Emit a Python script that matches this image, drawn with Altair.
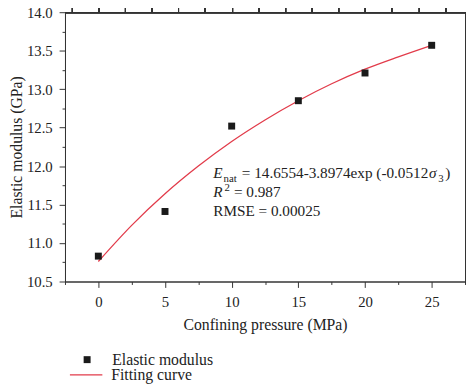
import altair as alt
import pandas as pd

# Measured data (Elastic modulus vs confining pressure)
pressure = [0, 5, 10, 15, 20, 25]
modulus = [10.83, 11.41, 12.52, 12.85, 13.21, 13.57]

# Fitting curve
curve_x = [0, 2.5, 5, 7.5, 10, 12.5, 15, 17.5, 20, 22.5, 25]
curve_y = [10.76, 11.23, 11.64, 12.00, 12.32, 12.60, 12.85, 13.07, 13.26, 13.42, 13.57]

# Axis ticks
x_major = [0, 5, 10, 15, 20, 25]
x_minor = [-2.5, 2.5, 7.5, 12.5, 17.5, 22.5, 27.5]
y_major = [10.5, 11.0, 11.5, 12.0, 12.5, 13.0, 13.5, 14.0]
y_minor = [10.75, 11.25, 11.75, 12.25, 12.75, 13.25, 13.75]

FONT = "Liberation Serif"
INK = "#222222"
RED = "#e23b4a"

pts = pd.DataFrame({"p": pressure, "e": modulus, "series": "Elastic modulus"})
crv = pd.DataFrame({"p": curve_x, "e": curve_y, "series": "Fitting curve"})

xs = alt.Scale(domain=[-2.5, 27.5], nice=False, zero=False)
ys = alt.Scale(domain=[10.5, 14.0], nice=False, zero=False)

x_axis = alt.Axis(
    values=x_major, title="Confining pressure (MPa)", orient="bottom",
    tickSize=6, labelPadding=7, titlePadding=8, grid=False,
    labelOverlap=False, labelFlush=False,
)
y_axis = alt.Axis(
    values=y_major, title="Elastic modulus (GPa)", format=".1f", orient="left",
    tickSize=6, labelPadding=7, titlePadding=2, grid=False,
    labelOverlap=False, labelFlush=False,
)
x_minor_axis = alt.Axis(values=x_minor, orient="bottom", labels=False, title=None,
                        tickSize=3, domain=False, grid=False)
y_minor_axis = alt.Axis(values=y_minor, orient="left", labels=False, title=None,
                        tickSize=3, domain=False, grid=False)

line = alt.Chart(crv).mark_line(strokeWidth=1.3, interpolate="monotone").encode(
    x=alt.X("p:Q", scale=xs, axis=x_axis),
    y=alt.Y("e:Q", scale=ys, axis=y_axis),
    color=alt.Color("series:N", scale=alt.Scale(domain=["Fitting curve"], range=[RED]),
                    legend=alt.Legend(orient="none", legendX=4, legendY=351.5, title=None,
                                      symbolSize=1089, symbolStrokeWidth=1.5,
                                      labelOffset=8, padding=0,
                                      labelFont=FONT, labelFontSize=16, labelColor=INK)),
)

points = alt.Chart(pts).mark_point(filled=True, size=50, opacity=1, color="#1a1a1a").encode(
    x=alt.X("p:Q", scale=xs, axis=x_minor_axis),
    y=alt.Y("e:Q", scale=ys, axis=y_minor_axis),
    shape=alt.Shape("series:N", scale=alt.Scale(domain=["Elastic modulus"], range=["square"]),
                    legend=alt.Legend(orient="none", legendX=14.5, legendY=345.5, title=None,
                                      symbolSize=50, labelOffset=17.5, padding=0,
                                      symbolFillColor="#1a1a1a", symbolStrokeWidth=0,
                                      labelFont=FONT, labelFontSize=16, labelColor=INK)),
)

# Annotation pieces
ann_x = 8.62
line1_y, line2_y, line3_y = 11.85, 11.595, 11.355
eq_main = "= 14.6554-3.8974exp (-0.0512"
r2_main = "= 0.987"
rmse_txt = "RMSE = 0.00025"

def piece(text, y, dx=0, dy=0, size=15.5, style="normal"):
    d = pd.DataFrame({"p": [ann_x], "e": [y], "t": [text]})
    return alt.Chart(d).mark_text(
        align="left", baseline="alphabetic", dx=dx, dy=dy, font=FONT,
        fontSize=size, fontStyle=style, color=INK,
    ).encode(x="p:Q", y="e:Q", text="t:N")

ann = [
    piece("E", line1_y, style="italic"),
    piece("nat", line1_y, dx=10.5, dy=4, size=11),
    piece(eq_main, line1_y, dx=29),
    piece("σ", line1_y, dx=219.5, style="italic"),
    piece("3", line1_y, dx=229, dy=4, size=11),
    piece(")", line1_y, dx=236),
    piece("R", line2_y, style="italic"),
    piece("2", line2_y, dx=11.5, dy=-6, size=11),
    piece(r2_main, line2_y, dx=21),
    piece(rmse_txt, line3_y),
]

chart = alt.layer(line, points, *ann).resolve_axis(
    x="independent", y="independent"
).resolve_legend(
    shape="independent", color="independent"
).properties(
    width=407, height=274,
    autosize=alt.AutoSizeParams(type="none"),
    padding={"left": 58, "top": 1, "right": 1, "bottom": 102},
).configure_view(
    stroke="#333333", strokeWidth=1,
).configure_axis(
    labelFont=FONT, labelFontSize=15, labelColor=INK,
    titleFont=FONT, titleFontSize=16, titleColor=INK, titleFontWeight="normal",
    domainColor="#333333", tickColor="#333333", domainWidth=1, tickWidth=1,
)

chart.save("out.html", embed_options={"renderer": "svg", "actions": False})
